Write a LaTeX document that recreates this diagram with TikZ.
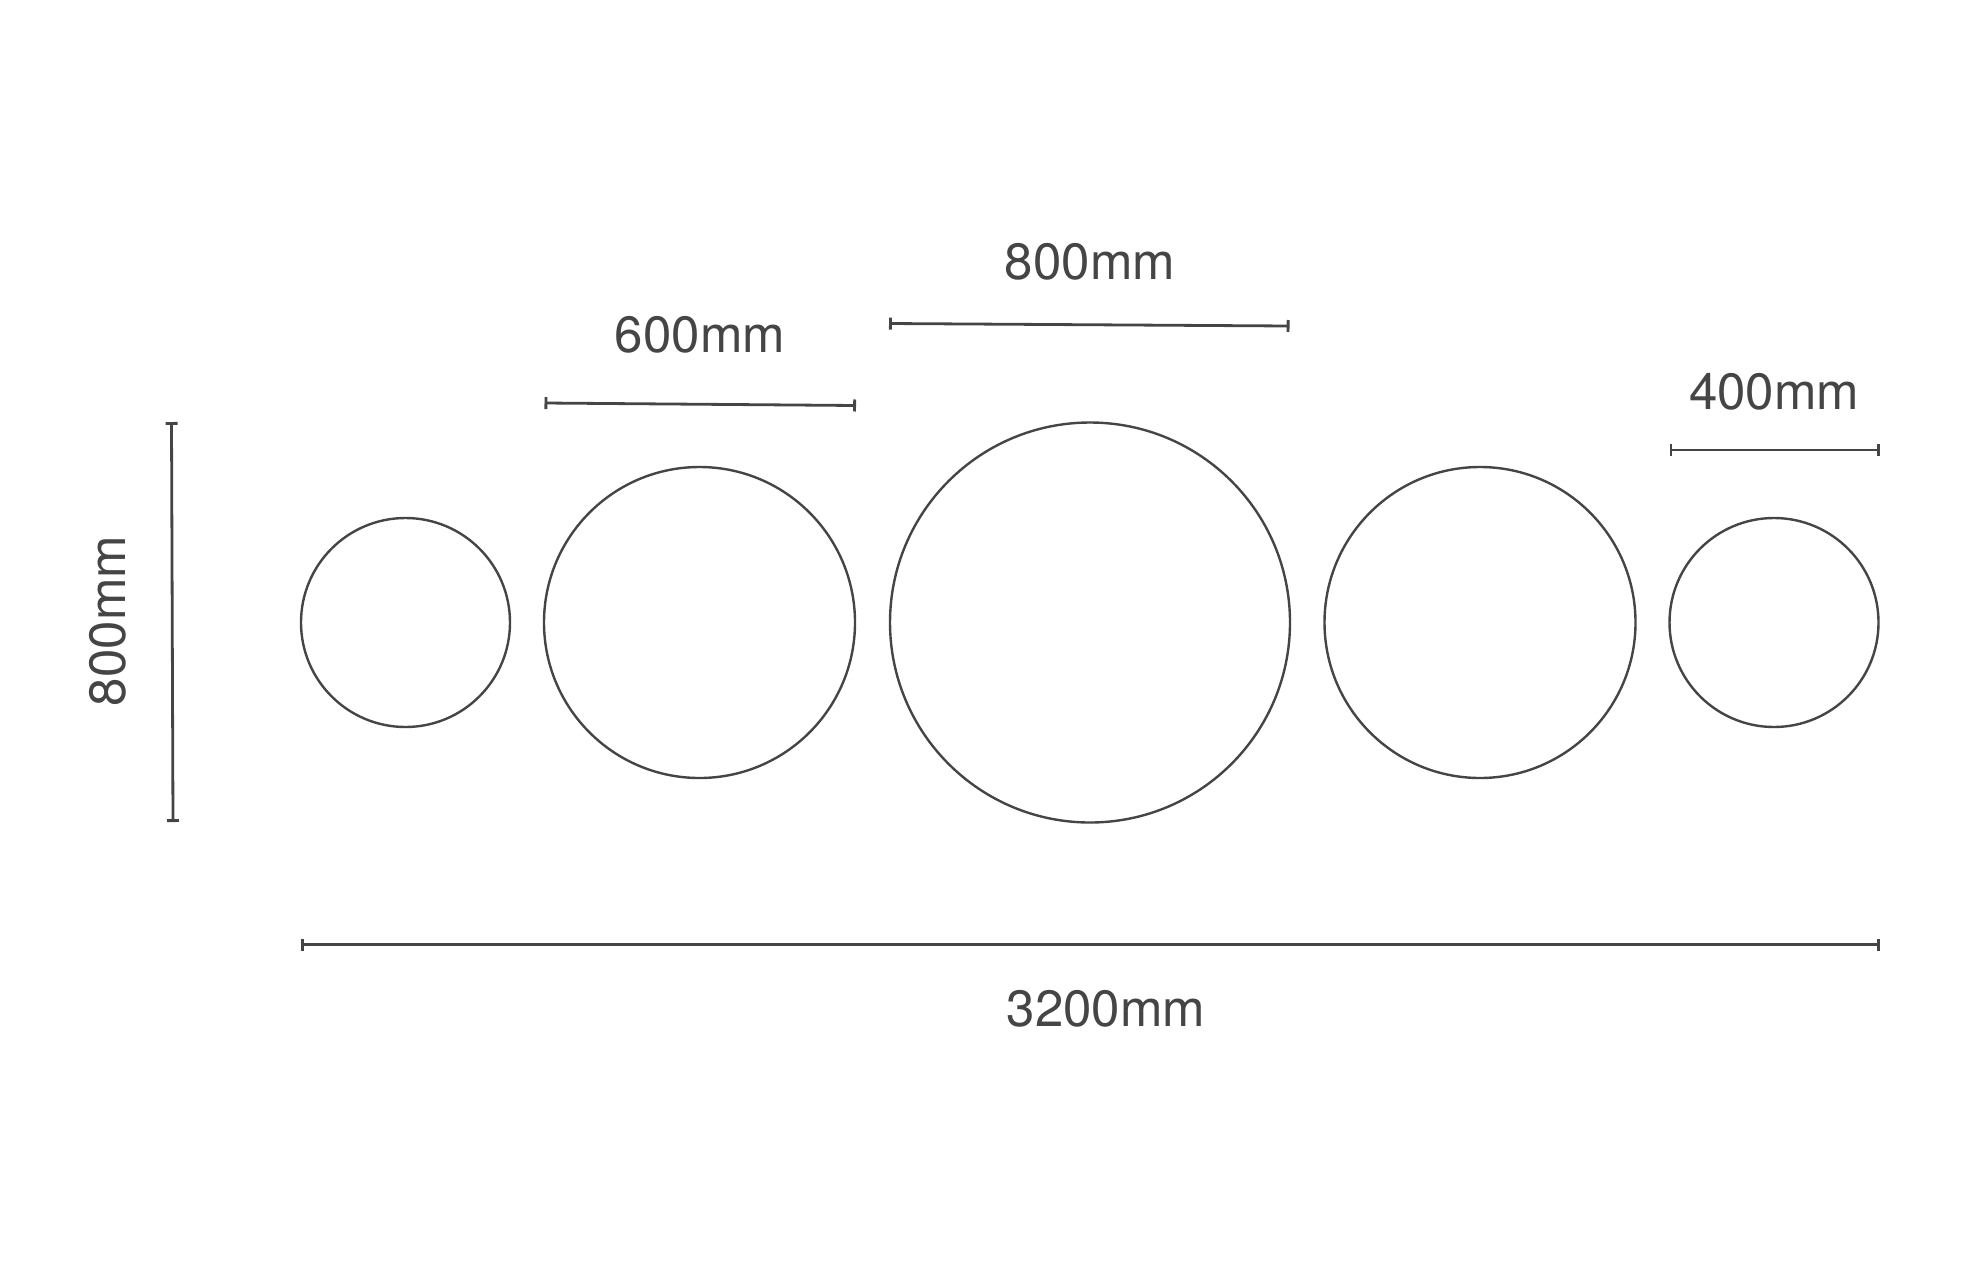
\documentclass[tikz,border=0pt]{standalone}
\usepackage{fontspec}
\setmainfont{TeX Gyre Heros}
\usetikzlibrary{arrows.meta}
\definecolor{ink}{HTML}{454545}
\begin{document}
\begin{tikzpicture}[x=0.5pt,y=-0.5pt,
		disc/.style={circle,draw=ink,line width=1.2pt,inner sep=0pt},
		dimline/.style={draw=ink,line width=1.4pt,{Bar[width=6pt,line width=1.4pt]}-{Bar[width=6pt,line width=1.4pt]}},
		dimtext/.style={text=ink,font=\fontsize{25.5}{30}\selectfont,inner sep=0pt}]
			\useasboundingbox (0,0) rectangle (1980,1280);
			% the five discs
			\node[disc,minimum size=104.5pt] (s1) at (405.5,622.5) {};
			\node[disc,minimum size=155.5pt] (m1) at (699.5,622.5) {};
			\node[disc,minimum size=200pt] (big) at (1090,622.5) {};
			\node[disc,minimum size=155.5pt] (m2) at (1480,622.5) {};
			\node[disc,minimum size=104.5pt] (s2) at (1774,622.5) {};
			% height
			\coordinate (hA) at (171.5,422);
			\coordinate (hB) at (173,822);
			\draw[dimline] (hA) -- (hB);
			\node[dimtext,rotate=90] (hlab) at (108,621) {800mm};
			% 600
			\coordinate (mA) at (544.5,403);
			\coordinate (mB) at (856,405.5);
			\draw[dimline] (mA) -- (mB);
			\node[dimtext] (mlab) at (700,335) {600mm};
			% 800
			\coordinate (bA) at (889,323.5);
			\coordinate (bB) at (1289.5,326);
			\draw[dimline] (bA) -- (bB);
			\node[dimtext] (blab) at (1090,262) {800mm};
			% 400
			\coordinate (sA) at (1669.5,450);
			\coordinate (sB) at (1879.5,450);
			\draw[dimline] (sA) -- (sB);
			\node[dimtext] (slab) at (1774,392) {400mm};
			% total width
			\coordinate (wA) at (301,944.5);
			\coordinate (wB) at (1879.5,944.5);
			\draw[dimline] (wA) -- (wB);
			\node[dimtext] (wlab) at (1106,1009) {3200mm};
		\end{tikzpicture}
\end{document}
